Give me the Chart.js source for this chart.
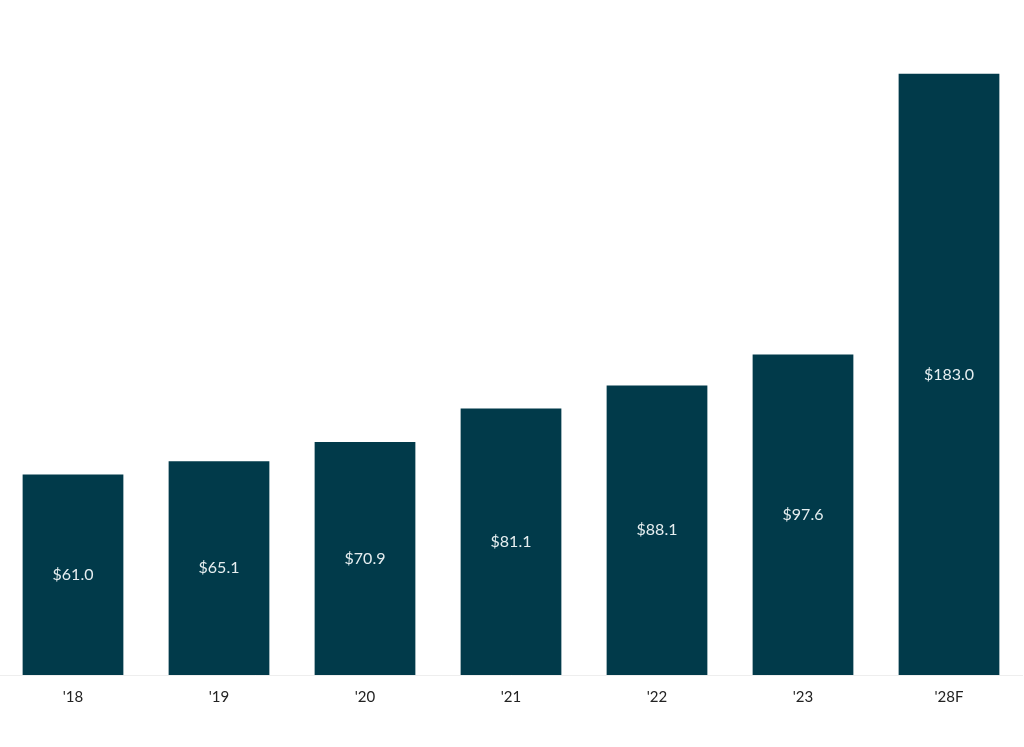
<!DOCTYPE html>
<html lang="en">
<head>
    <meta charset="UTF-8">
    <title>Market size</title>
    <script src="https://cdn.jsdelivr.net/npm/chart.js@4.4.0/dist/chart.umd.min.js"></script>
    <style>
        html, body { margin: 0; padding: 0; background: #fff; }
        .container { width: 1024px; height: 747px; }
    </style>
</head>
<body>
<div class="container">
    <canvas id="my-chart"></canvas>
</div>
<script>

    const years = ["'18", "'19", "'20", "'21", "'22", "'23", "'28F"];
    const values = [61.0, 65.1, 70.9, 81.1, 88.1, 97.6, 183.0];

    // labels in the middle of each bar
    const barLabels = {
        id: 'barLabels',
        afterDatasetsDraw(chart) {
            const ctx = chart.ctx;
            const meta = chart.getDatasetMeta(0);
            ctx.save();
            ctx.fillStyle = '#e6eef0';
            ctx.font = '16px Lato';
            ctx.textAlign = 'center';
            ctx.textBaseline = 'middle';
            meta.data.forEach((bar, i) => {
                const y = (bar.y + bar.base) / 2;
                ctx.fillText('$' + values[i].toFixed(1), bar.x, y);
            });
            ctx.restore();
        }
    };

    const data = {
        labels: years,
        datasets: [{
            data: values,
            backgroundColor: '#013a4a',
            borderWidth: 0,
            categoryPercentage: 1,
            barPercentage: 0.69
        }]
    };

    const config = {
        type: 'bar',
        data: data,
        options: {
            responsive: true,
            maintainAspectRatio: false,
            animation: false,
            layout: { padding: { top: 18, left: 0, right: 2, bottom: 28 } },
            plugins: {
                legend: { display: false },
                tooltip: { enabled: false }
            },
            scales: {
                x: {
                    grid: { display: false, drawTicks: false },
                    border: { display: true, color: '#eeeeee', width: 1 },
                    ticks: { color: '#222222', font: { family: 'Lato', size: 15 }, padding: 13 }
                },
                y: {
                    display: false,
                    min: 0,
                    max: 200
                }
            }
        },
        plugins: [barLabels]
    };

    const chart = new Chart(document.getElementById('my-chart'), config);

</script>
</body>
</html>
